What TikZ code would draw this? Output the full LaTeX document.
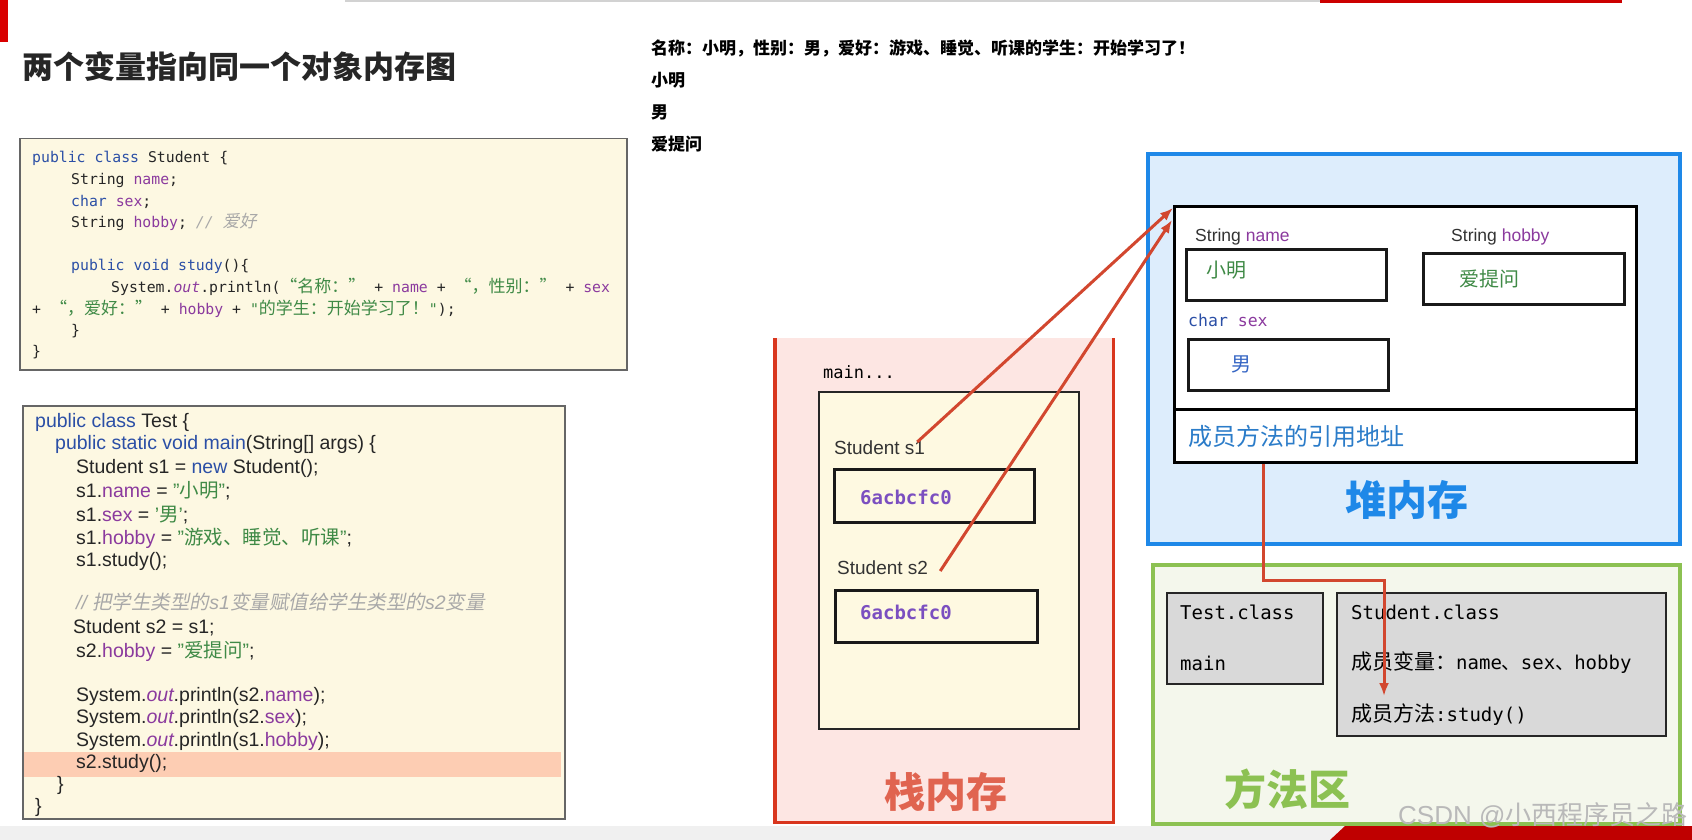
\documentclass[tikz,border=0pt]{standalone}
\usepackage{fontspec}
\setmainfont{Liberation Sans}
\newfontfamily\cjk[AutoFakeSlant=0.2]{Noto Sans CJK SC}
\newfontfamily\mono{DejaVu Sans Mono}
\usetikzlibrary{arrows.meta}
\definecolor{kwblue}{HTML}{2B4FA6}
\definecolor{fldpurple}{HTML}{8B3A9E}
\definecolor{strgreen}{HTML}{3F8A46}
\definecolor{cmtgray}{HTML}{A8A8A8}
\definecolor{codebg}{HTML}{FDF8E2}
\definecolor{hilite}{HTML}{FDCDB3}
\definecolor{stackbg}{HTML}{FDE6E3}
\definecolor{stackred}{HTML}{D9361E}
\definecolor{stacktxt}{HTML}{E06450}
\definecolor{framebg}{HTML}{FEF9E1}
\definecolor{addrpurple}{HTML}{7B4FC0}
\definecolor{heapbg}{HTML}{DDEDFC}
\definecolor{heapblue}{HTML}{1E88E8}
\definecolor{refblue}{HTML}{2B7CC9}
\definecolor{methbg}{HTML}{F4F7EC}
\definecolor{methgreen}{HTML}{8CC152}
\definecolor{classbg}{HTML}{D9D9D9}
\definecolor{arrowred}{HTML}{D2472F}
\definecolor{sexblue}{HTML}{3565C4}
\newcommand\zh[1]{{\cjk #1}}
\newcommand\zhc[1]{{\cjk\fontsize{17}{20}\selectfont #1}}
\newcommand\jkw[1]{\textcolor{kwblue}{#1}}
\newcommand\jfld[1]{\textcolor{fldpurple}{#1}}
\newcommand\jstr[1]{\textcolor{strgreen}{#1}}
\newcommand\jcmt[1]{\textcolor{cmtgray}{\itshape #1}}

\begin{document}
\begin{tikzpicture}[x=1pt,y=-1pt,>={Latex[length=13pt,width=10pt]},
  lbl/.style={anchor=west,inner sep=0pt},
  codeA/.style={anchor=base west,inner sep=0pt,font=\mono\fontsize{14.8}{18}\selectfont,text=black!85},
  codeB/.style={anchor=base west,inner sep=0pt,font=\fontsize{19.5}{23}\selectfont,text=black!85},
  panel/.style={anchor=north west,inner sep=0pt},
  cell/.style={panel,draw=black!90,line width=2.5pt,minimum height=51pt},
  ref/.style={->,draw=arrowred,line width=3pt},
  big/.style={font={\cjk\bfseries\fontsize{41}{48}\selectfont}}]
\useasboundingbox[fill=white] (0,0) rectangle (1692,840);
% slide edges
\fill[gray!12] (0,826) rectangle (1692,840);
\fill[red!75!black] (1330,840) -- (1345,826) -- (1692,826) -- (1692,840) -- cycle;
\fill[red!85!black] (0,0) rectangle (8,42);
\fill[gray!35] (345,0) rectangle (1320,2);
\fill[red!80!black] (1320,0) rectangle (1622,3);

\node[lbl,font={\cjk\bfseries\fontsize{31}{36}\selectfont},text=black!85] (title) at (22,67) {两个变量指向同一个对象内存图};

% console output
\node[lbl,font={\cjk\bfseries\fontsize{17}{20}\selectfont}] (out1) at (651,48) {名称：小明，性别：男，爱好：游戏、睡觉、听课的学生：开始学习了！};
\node[lbl,font={\cjk\bfseries\fontsize{17}{20}\selectfont}] (out2) at (651,80) {小明};
\node[lbl,font={\cjk\bfseries\fontsize{17}{20}\selectfont}] (out3) at (651,112) {男};
\node[lbl,font={\cjk\bfseries\fontsize{17}{20}\selectfont}] (out4) at (651,144) {爱提问};

% class Student
\node[panel,fill=codebg,draw=black!60,line width=1.5pt,minimum width=607pt,minimum height=231pt] (stucode) at (19,138) {};
\node[codeA] (a1) at (32,163) {\jkw{public class} Student \{};
\node[codeA] (a2) at (71,184) {String \jfld{name};};
\node[codeA] (a3) at (71,206) {\jkw{char} \jfld{sex};};
\node[codeA] (a4) at (71,227) {String \jfld{hobby}; \jcmt{// \zhc{爱好}}};
\node[codeA] (a6) at (71,270) {\jkw{public void study}()\{};
\node[codeA] (a7) at (111,292) {System.\jfld{\itshape out}.println(\jstr{\zhc{“名称：”}} + \jfld{name} + \jstr{\zhc{“，性别：”}} + \jfld{sex}};
\node[codeA] (a8) at (32,314) {+ \jstr{\zhc{“，爱好：”}} + \jfld{hobby} + \jstr{"\zhc{的学生：开始学习了！}"});};
\node[codeA] (a9) at (71,335) {\}};
\node[codeA] (a10) at (32,356) {\}};

% class Test
\node[panel,fill=codebg,draw=black!60,line width=1.5pt,minimum width=542pt,minimum height=413pt] (testcode) at (22,405) {};
\node[panel,fill=hilite,minimum width=537pt,minimum height=25pt] (hl) at (24,752) {};
\node[codeB] (b1) at (35,427) {\jkw{public class} Test \{};
\node[codeB] (b2) at (55,449) {\jkw{public static void main}(String[] args) \{};
\node[codeB] (b3) at (76,473) {Student s1 = \jkw{new} Student();};
\node[codeB] (b4) at (76,497) {s1.\jfld{name} = \jstr{"\zh{小明}"};};
\node[codeB] (b5) at (76,521) {s1.\jfld{sex} = \jstr{'\zh{男}'};};
\node[codeB] (b6) at (76,544) {s1.\jfld{hobby} = \jstr{"\zh{游戏、睡觉、听课}"};};
\node[codeB] (b7) at (76,566) {s1.study();};
\node[codeB] (b8) at (76,609) {\jcmt{// \zh{把学生类型的}s1\zh{变量赋值给学生类型的}s2\zh{变量}}};
\node[codeB] (b9) at (73,633) {Student s2 = s1;};
\node[codeB] (b10) at (76,657) {s2.\jfld{hobby} = \jstr{"\zh{爱提问}"};};
\node[codeB] (b11) at (76,701) {System.\jfld{\itshape out}.println(s2.\jfld{name});};
\node[codeB] (b12) at (76,723) {System.\jfld{\itshape out}.println(s2.\jfld{sex});};
\node[codeB] (b13) at (76,746) {System.\jfld{\itshape out}.println(s1.\jfld{hobby});};
\node[codeB] (b14) at (76,768) {s2.study();};
\node[codeB] (b15) at (57,790) {\}};
\node[codeB] (b16) at (35,812) {\}};

% stack
\node[panel,fill=stackbg,minimum width=338pt,minimum height=484pt] (stack) at (775,338) {};
\draw[stackred,line width=3.5pt] (stack.north west) -- (stack.south west) -- (stack.south east) -- (stack.north east);
\node[lbl,font=\mono\fontsize{17}{20}\selectfont] (mainlbl) at (823,372) {main...};
\node[panel,fill=framebg,draw=black!85,line width=1.5pt,minimum width=260pt,minimum height=337pt] (frame) at (818,391) {};
\node[lbl,font=\fontsize{19}{22}\selectfont,text=black!80] (s1lbl) at (834,448) {Student s1};
\node[cell,minimum width=200pt,minimum height=53pt] (s1box) at (833,468) {};
\node[lbl,font=\mono\bfseries\fontsize{19}{22}\selectfont,text=addrpurple] (s1addr) at (860,497) {6acbcfc0};
\node[lbl,font=\fontsize{19}{22}\selectfont,text=black!80] (s2lbl) at (837,568) {Student s2};
\node[cell,minimum width=202pt,minimum height=52pt] (s2box) at (834,589) {};
\node[lbl,font=\mono\bfseries\fontsize{19}{22}\selectfont,text=addrpurple] (s2addr) at (860,612) {6acbcfc0};
\node[big,text=stacktxt] (stackname) at (946,792) {栈内存};

% heap
\node[panel,fill=heapbg,draw=heapblue,line width=4pt,minimum width=532pt,minimum height=390pt] (heap) at (1146,152) {};
\node[panel,fill=white,draw=black,line width=3pt,minimum width=462pt,minimum height=203pt] (obj) at (1173,205) {};
\node[panel,fill=white,draw=black,line width=3pt,minimum width=462pt,minimum height=53pt] (objref) at (1173,408) {};
\node[lbl,font=\fontsize{17.5}{20}\selectfont,text=black!80] (namelbl) at (1195,237) {String \jfld{name}};
\node[cell,minimum width=200pt] (namebox) at (1185,248) {};
\node[lbl,font={\cjk\fontsize{20}{24}\selectfont},text=strgreen] (nameval) at (1206,270) {小明};
\node[lbl,font=\fontsize{17.5}{20}\selectfont,text=black!80] (hobbylbl) at (1451,237) {String \jfld{hobby}};
\node[cell,minimum width=201pt] (hobbybox) at (1422,252) {};
\node[lbl,font={\cjk\fontsize{20}{24}\selectfont},text=strgreen] (hobbyval) at (1459,279) {爱提问};
\node[lbl,font=\mono\fontsize{16.5}{20}\selectfont] (sexlbl) at (1188,320) {\jkw{char} \jfld{sex}};
\node[cell,minimum width=200pt] (sexbox) at (1187,338) {};
\node[lbl,font={\cjk\fontsize{20}{24}\selectfont},text=sexblue] (sexval) at (1231,364) {男};
\node[lbl,font={\cjk\fontsize{24}{28}\selectfont},text=refblue] (mrefaddr) at (1188,436) {成员方法的引用地址};
\node[big,text=heapblue] (heapname) at (1407,500) {堆内存};

% method area
\node[panel,fill=methbg,draw=methgreen,line width=4pt,minimum width=527pt,minimum height=259pt] (meth) at (1151,563) {};
\node[panel,fill=classbg,draw=black!85,line width=2pt,minimum width=156pt,minimum height=91pt] (testcls) at (1166,592) {};
\node[lbl,font=\mono\fontsize{19}{22}\selectfont] (testname) at (1180,612) {Test.class};
\node[lbl,font=\mono\fontsize{19}{22}\selectfont] (testmain) at (1180,663) {main};
\node[panel,fill=classbg,draw=black!85,line width=2pt,minimum width=329pt,minimum height=143pt] (stucls) at (1336,592) {};
\node[lbl,font=\mono\fontsize{19}{22}\selectfont] (stuname) at (1351,612) {Student.class};
\node[lbl,font=\mono\fontsize{19}{22}\selectfont] (stuvars) at (1351,663) {{\cjk\fontsize{21}{24}\selectfont 成员变量：}name{\cjk 、}sex{\cjk 、}hobby};
\node[lbl,font=\mono\fontsize{19}{22}\selectfont] (stumeth) at (1351,715) {{\cjk\fontsize{21}{24}\selectfont 成员方法}:study()};
\node[big,text=methgreen,font={\cjk\bfseries\fontsize{42}{48}\selectfont}] (methname) at (1287,789) {方法区};

% references
\coordinate (mtarget) at (1384,696);
\draw[ref] ([xshift=-8pt,yshift=6pt]s1lbl.east) -- ([yshift=-3pt]obj.north west);
\draw[ref] ([xshift=12pt,yshift=-3pt]s2lbl.east) -- ([xshift=-1pt,yshift=-15pt]obj.north west);
\draw[ref] ([xshift=90pt]objref.south west) -- ++(0,116) -| (mtarget);

\node[lbl,font=\fontsize{26}{30}\selectfont,text=gray!55] (mark) at (1398,815) {CSDN @{\cjk 小西程序员之路}};
\end{tikzpicture}
\end{document}
